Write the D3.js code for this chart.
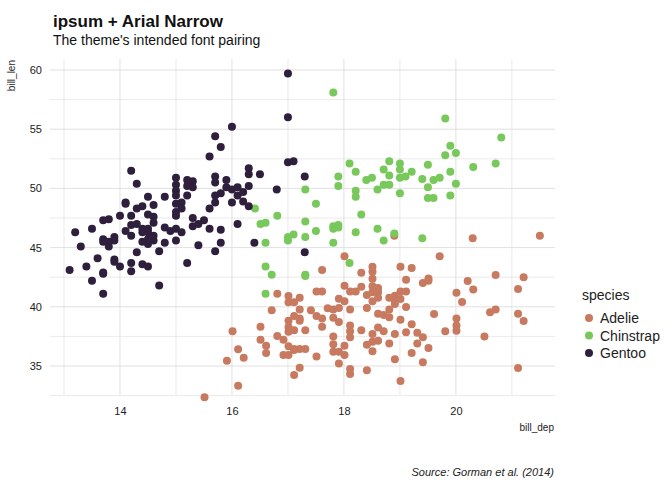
<!DOCTYPE html>
<html><head><meta charset="utf-8">
<script src="https://cdn.jsdelivr.net/npm/d3@7"></script>
<style>body{margin:0;background:#fff}</style>
</head><body>
<script>
// values, [bill_dep, bill_len]
const adelie = [[18.01,44.26],[19.71,44.26],[17.61,43.11],[18.51,43.39],[18.51,42.97],[19.01,43.39],[19.21,43.28],[18.31,42.88],[18.51,42.37],[19.11,42.29],[19.41,42.01],[19.51,42.40],[19.51,42.21],[20.21,42.18],[20.71,42.68],[21.21,42.49],[18.01,41.78],[18.11,41.30],[18.21,41.30],[18.31,41.70],[18.51,41.73],[18.61,41.59],[18.61,41.22],[18.51,41.22],[17.51,41.30],[17.61,41.30],[16.81,41.11],[17.01,40.91],[17.21,40.77],[17.01,40.38],[17.11,40.38],[17.91,40.69],[18.01,40.46],[18.41,41.00],[18.61,40.77],[18.51,40.46],[18.81,40.77],[18.91,40.94],[19.01,41.30],[19.11,41.30],[18.91,40.52],[19.01,40.66],[18.91,40.23],[18.81,39.78],[19.11,39.98],[20.01,41.19],[20.31,41.47],[21.11,41.50],[20.11,40.40],[16.71,39.70],[17.21,39.78],[17.41,39.70],[17.71,39.87],[17.81,39.78],[17.91,39.90],[18.11,39.78],[18.41,39.90],[18.61,39.42],[18.71,39.31],[18.81,39.11],[19.01,38.91],[19.21,38.52],[19.61,39.39],[20.61,39.53],[20.71,39.78],[21.11,39.42],[21.21,38.80],[20.01,39.02],[20.01,38.41],[20.01,37.98],[19.81,37.93],[20.51,37.50],[17.11,39.22],[17.21,39.02],[17.01,38.83],[17.21,38.83],[17.51,39.22],[17.61,39.02],[17.81,39.08],[17.91,38.71],[17.01,38.29],[17.01,37.90],[17.11,38.01],[17.31,38.01],[17.61,38.32],[18.11,38.41],[18.11,37.93],[18.11,37.42],[18.31,38.01],[18.51,37.70],[18.61,38.26],[18.71,37.93],[18.91,37.70],[19.11,37.84],[19.31,37.81],[19.41,37.42],[19.31,36.91],[19.51,36.52],[19.21,36.10],[19.41,35.31],[18.91,35.56],[18.81,36.91],[18.61,37.14],[18.51,37.05],[18.41,36.80],[18.51,36.24],[18.01,36.72],[17.81,37.50],[17.81,36.83],[17.81,36.21],[17.91,36.21],[18.01,35.93],[17.91,35.22],[18.11,34.75],[18.11,34.32],[18.41,34.63],[19.01,33.73],[21.11,34.83],[17.51,35.81],[17.21,34.86],[17.11,34.24],[16.81,37.53],[16.92,37.22],[17.01,36.66],[17.11,36.43],[17.21,36.43],[17.31,36.43],[16.92,35.93],[17.01,35.93],[17.11,36.35],[16.51,38.32],[16.51,37.22],[16.61,36.72],[16.61,36.10],[16.11,36.41],[16.21,35.70],[15.91,35.45],[16.01,37.93],[16.11,33.34],[15.51,32.35],[21.5,46.0],[20.3,45.8],[18.9,46.0]];
const chinstrap = [[17.81,58.1],[19.81,55.9],[20.81,54.3],[19.90,53.6],[19.81,52.8],[20.00,53.0],[18.10,52.1],[18.81,52.3],[19.00,52.1],[19.50,52.0],[20.31,51.8],[20.71,52.1],[18.21,51.4],[18.71,51.6],[19.00,51.6],[19.21,51.4],[19.90,51.4],[17.90,51.0],[18.81,51.1],[19.00,50.9],[19.10,51.0],[19.40,50.8],[19.60,50.7],[19.71,50.9],[18.40,50.7],[18.50,50.9],[17.90,50.2],[18.71,50.3],[18.81,50.3],[18.60,49.9],[19.50,50.1],[20.00,50.4],[18.21,49.8],[18.21,49.3],[19.00,49.6],[19.50,49.2],[19.60,49.2],[19.90,49.4],[17.31,49.9],[17.50,48.7],[16.41,48.3],[16.81,47.7],[18.31,47.8],[16.51,47.0],[16.60,47.1],[17.31,47.2],[17.81,46.8],[17.90,46.9],[17.81,46.6],[17.90,46.7],[17.50,46.4],[18.21,46.3],[18.60,46.6],[18.90,46.2],[17.00,45.9],[17.00,45.6],[17.10,46.1],[17.31,45.9],[16.60,45.4],[17.81,45.4],[18.71,45.6],[19.40,45.8],[18.10,43.7],[16.60,43.4],[16.71,42.7],[17.31,42.7],[17.31,42.6],[16.60,41.1]];
const gentoo = [[17.0,59.7],[17.0,56.0],[16.0,55.2],[15.7,54.4],[15.8,53.5],[15.6,52.7],[17.0,52.2],[17.1,52.3],[14.2,51.5],[16.3,51.7],[16.3,51.2],[16.5,51.2],[14.3,50.4],[15.0,50.9],[15.0,50.3],[15.0,49.8],[15.0,49.4],[15.0,48.7],[15.0,48.0],[15.0,47.7],[15.2,50.7],[15.2,50.2],[15.3,50.6],[15.3,50.1],[15.2,49.4],[15.7,51.0],[15.7,50.5],[15.9,50.7],[15.9,50.1],[15.8,49.6],[15.7,49.4],[16.0,49.9],[16.1,50.1],[16.1,49.4],[16.2,49.7],[16.2,48.9],[16.0,48.8],[16.3,48.5],[16.3,50.2],[16.8,49.9],[15.6,48.3],[15.7,48.8],[15.1,48.8],[15.1,48.3],[14.8,49.3],[14.5,49.3],[14.6,48.6],[14.4,48.5],[14.3,48.3],[14.1,48.8],[14.1,48.7],[14.6,47.6],[14.5,47.8],[14.2,47.7],[14.0,47.7],[14.2,46.9],[14.3,47.0],[14.4,46.6],[14.5,46.6],[14.6,47.1],[14.4,46.3],[14.5,46.3],[14.6,46.0],[14.5,45.7],[14.4,45.5],[14.5,45.3],[14.6,45.6],[14.2,46.0],[14.1,46.4],[14.7,44.7],[14.8,45.4],[14.3,44.6],[14.8,46.7],[14.9,46.4],[15.0,46.6],[15.0,45.6],[15.1,46.3],[15.3,47.5],[15.3,46.8],[15.4,47.0],[15.5,47.3],[15.6,46.6],[15.8,46.5],[16.1,47.0],[15.4,45.2],[15.8,45.4],[15.7,44.7],[15.2,43.7],[14.7,41.8],[16.4,45.4],[13.7,47.3],[13.8,47.4],[13.5,46.6],[13.2,46.3],[13.7,45.7],[13.7,45.5],[13.8,45.5],[13.8,45.1],[13.9,45.9],[13.9,45.6],[13.3,45.1],[13.6,44.1],[13.4,43.4],[13.7,42.9],[13.7,42.8],[13.5,42.2],[13.1,43.1],[13.7,41.1],[13.9,44.0],[13.9,43.8],[14.0,43.4],[14.2,43.7],[14.2,43.0],[14.4,43.6],[14.5,43.4],[17.3,51.0],[17.3,44.6]];
const species = ["Adelie", "Chinstrap", "Gentoo"];
const colors = ["#c77a5f", "#78c85c", "#2e1f3d"];
const xTicks = [14, 16, 18, 20];
const yTicks = [35, 40, 45, 50, 55, 60];

const W = 672, H = 480;
const font = "'Liberation Sans Narrow', 'Arial Narrow', 'Liberation Sans', sans-serif";
const svg = d3.select("body").append("svg").attr("width", W).attr("height", H)
  .style("font-family", font);

const x = d3.scaleLinear().domain([12.75, 21.77]).range([50, 555]);
const y = d3.scaleLinear().domain([32.55, 60.93]).range([395, 59]);

// grid
const gx = d3.range(13, 22, 1), gy = d3.range(32.5, 61, 2.5);
svg.append("g").selectAll("line").data(gx).join("line")
  .attr("x1", d => x(d)).attr("x2", d => x(d)).attr("y1", 59).attr("y2", 395)
  .attr("stroke", "#dcdcdc").attr("stroke-width", d => d % 2 === 0 ? 0.9 : 0.6);
svg.append("g").selectAll("line").data(gy).join("line")
  .attr("y1", d => y(d)).attr("y2", d => y(d)).attr("x1", 50).attr("x2", 555)
  .attr("stroke", "#dcdcdc").attr("stroke-width", d => d % 5 === 0 ? 0.9 : 0.6);

// axes
const xa = svg.append("g").attr("transform", "translate(0,395)")
  .call(d3.axisBottom(x).tickValues(xTicks).tickSize(0).tickPadding(12));
const ya = svg.append("g").attr("transform", "translate(50,0)")
  .call(d3.axisLeft(y).tickValues(yTicks).tickSize(0).tickPadding(8));
[xa, ya].forEach(a => {
  a.select(".domain").remove();
  a.selectAll("text").attr("font-family", font).attr("font-size", 11).attr("fill", "#222");
});

// points
const sets = [adelie, chinstrap, gentoo];
sets.forEach((s, i) => {
  svg.append("g").selectAll("circle").data(s).join("circle")
    .attr("cx", d => x(d[0])).attr("cy", d => y(d[1])).attr("r", 4)
    .attr("fill", colors[i]);
});

// titles
svg.append("text").attr("x", 53).attr("y", 27).text("ipsum + Arial Narrow")
  .attr("font-size", 17).attr("font-weight", "bold").attr("fill", "#111");
svg.append("text").attr("x", 53).attr("y", 45).text("The theme's intended font pairing")
  .attr("font-size", 14).attr("fill", "#111");
svg.append("text").attr("transform", "translate(15,60) rotate(-90)")
  .attr("text-anchor", "end").text("bill_len").attr("font-size", 10).attr("fill", "#222");
svg.append("text").attr("x", 554).attr("y", 431).attr("text-anchor", "end")
  .text("bill_dep").attr("font-size", 10).attr("fill", "#222");
svg.append("text").attr("x", 554).attr("y", 476).attr("text-anchor", "end")
  .text("Source: Gorman et al. (2014)").attr("font-size", 11)
  .attr("font-style", "italic").attr("fill", "#222");

// legend
const lg = svg.append("g").attr("transform", "translate(582,0)");
lg.append("text").attr("x", 0).attr("y", 300).text("species").attr("font-size", 14).attr("fill", "#222");
species.forEach((s, i) => {
  lg.append("circle").attr("cx", 7).attr("cy", 318 + i * 17.5).attr("r", 4).attr("fill", colors[i]);
  lg.append("text").attr("x", 18).attr("y", 323 + i * 17.5).text(s).attr("font-size", 14).attr("fill", "#222");
});
</script>
</body></html>
